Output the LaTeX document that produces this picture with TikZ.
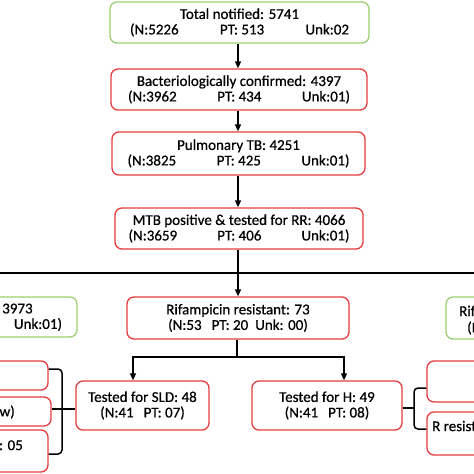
\documentclass[tikz,border=0pt]{standalone}
\usepackage{fontspec}
\setmainfont{Carlito}
\newfontfamily\boxfont{Carlito}[FakeBold=0.6]
\usetikzlibrary{arrows.meta}
\definecolor{gbox}{RGB}{155,208,115}
\definecolor{rbox}{RGB}{228,62,62}
\tikzset{
  box/.style={draw, line width=1.3pt, rounded corners=7pt, inner sep=0pt, align=center, font=\boxfont\fontsize{15}{15.5}\selectfont},
  gb/.style={box, draw=gbox},
  rb/.style={box, draw=rbox},
  txt/.style={inner sep=0pt, font=\boxfont\fontsize{15}{15.5}\selectfont},
  conn/.style={line width=1.5pt, black},
  arr/.style={conn, -{Triangle[length=7pt,width=6pt]}},
}
\newcommand{\trio}[4]{\makebox[#1]{#2\hfill #3\hfill #4}}
\begin{document}
\begin{tikzpicture}[x=1pt,y=-1pt]
\useasboundingbox (0,0) rectangle (474,474);
\fill[white] (0,0) rectangle (474,474);
\clip (0,0) rectangle (474,474);
% main column
\node[gb, minimum width=259pt, minimum height=41pt] (b1) at (239.5,22.5)
  {Total notified: 5741\\\trio{219pt}{(N:5226}{PT: 513}{Unk:02}};
\node[rb, minimum width=256pt, minimum height=41pt] (b2) at (239,89.5)
  {Bacteriologically confirmed: 4397\\\trio{222pt}{(N:3962}{PT: 434}{Unk:01)}};
\node[rb, minimum width=253pt, minimum height=43pt] (b3) at (238.5,153.5)
  {Pulmonary TB: 4251\\\trio{222pt}{(N:3825}{PT: 425}{Unk:01)}};
\node[rb, minimum width=248pt, minimum height=41pt] (b4) at (239,228.5)
  {MTB positive \& tested for RR: 4066\\\trio{221pt}{(N:3659}{PT: 406}{Unk:01)}};
\draw[arr] (b1.south -| 238,0) -- (b2.north -| 238,0);
\draw[arr] (b2.south -| 238,0) -- (b3.north -| 238,0);
\draw[arr] (b3.south -| 238,0) -- (b4.north -| 238,0);
% second row
\node[rb, minimum width=222pt, minimum height=42pt] (rr) at (238,318)
  {Rifampicin resistant: 73\\(N:53\hspace{10pt}PT: 20\hspace{7pt}Unk: 00)};
\node[gb, minimum width=230pt, minimum height=40pt] (rs) at (-38,317)
  {Rifampicin sensitive: 3973\hspace*{18pt}\\\trio{200pt}{(N:3566}{PT: 386}{Unk:01)}};
\node[gb, minimum width=222pt, minimum height=42pt] (ri) at (557,318) {};
\node[txt, anchor=west] (ri1) at (459,312) {Rifampicin indeterminate: 20};
\node[txt, anchor=west] (ri2) at (467,328) {(N};
\coordinate (hl) at (0,273);
\coordinate (hr) at (474,273);
\draw[conn] (hl) -- (hr);
\draw[arr] (b4.south -| 238,0) -- (rr.north -| 238,0);
% third row
\node[rb, minimum width=133pt, minimum height=49pt] (sld) at (142.5,405.5)
  {Tested for SLD: 48\\(N:41\hspace{10pt}PT: 07)};
\node[rb, minimum width=150pt, minimum height=49pt] (th) at (327,405.5)
  {Tested for H: 49\\(N:41\hspace{10pt}PT: 08)};
\coordinate (split) at (237,357);
\draw[conn] (rr.south -| split) -- (split);
\draw[arr] (split) -| (sld.north -| 133,0);
\draw[arr] (split) -| (th.north -| 344,0);
% left stack
\node[rb, minimum width=100pt, minimum height=29pt] (sa) at (-2,375.5) {};
\node[rb, minimum width=100pt, minimum height=29pt] (sb) at (1,411.5) {};
\node[rb, minimum width=100pt, minimum height=42pt] (sc) at (-2,451) {};
\node[txt, anchor=east] (sbt) at (15,412) {(new)};
\node[txt, anchor=east] (sct) at (23,445) {resistant: 05};
\draw[conn, rounded corners=4pt] (sa.east |- 0,369) -- (62,369) -- (62,454) -- (sc.east |- 0,454);
\draw[conn] (sb.east |- 0,409) -- (sld.west |- 0,409);
% right stack
\node[rb, minimum width=100pt, minimum height=41pt] (ha) at (477,381.5) {};
\node[rb, minimum width=100pt, minimum height=43pt] (hb) at (477,433.5) {};
\node[txt, anchor=west] (hbt) at (432,426) {R resistant};
\draw[conn, rounded corners=4pt] (ha.west |- 0,388) -- (414,388) -- (414,429) -- (hb.west |- 0,429);
\draw[conn] (th.east |- 0,408) -- (414,408);
\end{tikzpicture}
\end{document}
